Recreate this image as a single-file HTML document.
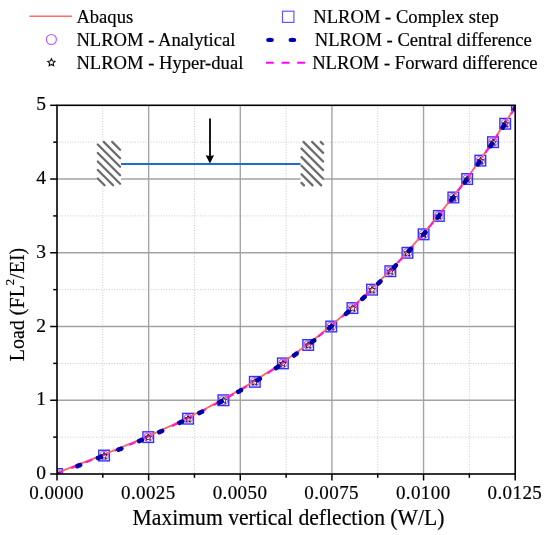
<!DOCTYPE html>
<html><head><meta charset="utf-8"><style>
html,body{margin:0;padding:0;background:#fff;}
svg{display:block;}
text{font-family:"Liberation Serif","Times New Roman",serif;fill:#000;stroke:#000;stroke-width:0.18;}
.gm{stroke:#c8c8c8;stroke-width:1;stroke-dasharray:1 1.6;}
.gM{stroke:#a2a2a2;stroke-width:1.35;}
.sq{fill:#fff;stroke:#3030ff;stroke-width:1.4;}
.ci{fill:none;stroke:#c050ff;stroke-width:1.1;}
.st{fill:none;stroke:#222;stroke-width:1;stroke-linejoin:miter;}
</style></head><body>
<svg width="550" height="535" viewBox="0 0 550 535">
<rect width="550" height="535" fill="#fff"/>
<defs>
<clipPath id="pc"><rect x="57.0" y="105.3" width="458.20" height="368.70"/></clipPath>
<clipPath id="hl"><rect x="96.9" y="141.0" width="24.10" height="45.20"/></clipPath>
<clipPath id="hr"><rect x="300.6" y="141.0" width="23.40" height="45.30"/></clipPath>
</defs>
<g>
<line x1="102.82" y1="105.3" x2="102.82" y2="474.0" class="gm"/>
<line x1="194.46" y1="105.3" x2="194.46" y2="474.0" class="gm"/>
<line x1="286.10" y1="105.3" x2="286.10" y2="474.0" class="gm"/>
<line x1="377.74" y1="105.3" x2="377.74" y2="474.0" class="gm"/>
<line x1="469.38" y1="105.3" x2="469.38" y2="474.0" class="gm"/>
<line x1="57.0" y1="437.13" x2="515.2" y2="437.13" class="gm"/>
<line x1="57.0" y1="363.39" x2="515.2" y2="363.39" class="gm"/>
<line x1="57.0" y1="289.65" x2="515.2" y2="289.65" class="gm"/>
<line x1="57.0" y1="215.91" x2="515.2" y2="215.91" class="gm"/>
<line x1="57.0" y1="142.17" x2="515.2" y2="142.17" class="gm"/>
<line x1="148.64" y1="105.3" x2="148.64" y2="474.0" class="gM"/>
<line x1="240.28" y1="105.3" x2="240.28" y2="474.0" class="gM"/>
<line x1="331.92" y1="105.3" x2="331.92" y2="474.0" class="gM"/>
<line x1="423.56" y1="105.3" x2="423.56" y2="474.0" class="gM"/>
<line x1="57.0" y1="400.26" x2="515.2" y2="400.26" class="gM"/>
<line x1="57.0" y1="326.52" x2="515.2" y2="326.52" class="gM"/>
<line x1="57.0" y1="252.78" x2="515.2" y2="252.78" class="gM"/>
<line x1="57.0" y1="179.04" x2="515.2" y2="179.04" class="gM"/>
</g>
<rect x="96.9" y="141.0" width="24.10" height="45.20" fill="#fff"/>
<rect x="300.6" y="141.0" width="23.40" height="45.30" fill="#fff"/>
<g stroke="#6c6c6c" stroke-width="2.3" stroke-linecap="round">
<line x1="112.20" y1="141.90" x2="120.10" y2="149.80"/>
<line x1="103.70" y1="141.90" x2="120.10" y2="158.30"/>
<line x1="97.80" y1="144.50" x2="120.10" y2="166.80"/>
<line x1="97.80" y1="153.00" x2="120.10" y2="175.30"/>
<line x1="97.80" y1="161.50" x2="120.10" y2="183.80"/>
<line x1="97.80" y1="170.00" x2="113.10" y2="185.30"/>
<line x1="97.80" y1="178.50" x2="104.60" y2="185.30"/>
</g>
<g stroke="#6c6c6c" stroke-width="2.3" stroke-linecap="round">
<line x1="320.70" y1="141.90" x2="323.10" y2="144.30"/>
<line x1="312.10" y1="141.90" x2="323.10" y2="152.90"/>
<line x1="303.50" y1="141.90" x2="323.10" y2="161.50"/>
<line x1="301.50" y1="148.50" x2="323.10" y2="170.10"/>
<line x1="301.50" y1="157.10" x2="323.10" y2="178.70"/>
<line x1="301.50" y1="165.70" x2="321.20" y2="185.40"/>
<line x1="301.50" y1="174.30" x2="312.60" y2="185.40"/>
<line x1="301.50" y1="182.90" x2="304.00" y2="185.40"/>
</g>
<line x1="121" y1="164" x2="300.6" y2="164" stroke="#1b6fcb" stroke-width="2"/>
<line x1="210" y1="118.5" x2="210" y2="156" stroke="#000" stroke-width="1.8"/>
<path d="M205.7,155.3 L209.9,156 L214.1,155.3 L209.9,163.4 Z" fill="#000"/>
<g clip-path="url(#pc)">
<rect x="51.70" y="468.70" width="10.6" height="10.6" class="sq"/>
<rect x="98.76" y="450.26" width="10.6" height="10.6" class="sq"/>
<rect x="142.94" y="431.83" width="10.6" height="10.6" class="sq"/>
<rect x="182.77" y="413.39" width="10.6" height="10.6" class="sq"/>
<rect x="218.13" y="394.96" width="10.6" height="10.6" class="sq"/>
<rect x="249.51" y="376.52" width="10.6" height="10.6" class="sq"/>
<rect x="277.57" y="358.09" width="10.6" height="10.6" class="sq"/>
<rect x="302.89" y="339.66" width="10.6" height="10.6" class="sq"/>
<rect x="325.95" y="321.22" width="10.6" height="10.6" class="sq"/>
<rect x="347.14" y="302.79" width="10.6" height="10.6" class="sq"/>
<rect x="366.76" y="284.35" width="10.6" height="10.6" class="sq"/>
<rect x="385.03" y="265.92" width="10.6" height="10.6" class="sq"/>
<rect x="402.16" y="247.48" width="10.6" height="10.6" class="sq"/>
<rect x="418.29" y="229.04" width="10.6" height="10.6" class="sq"/>
<rect x="433.56" y="210.61" width="10.6" height="10.6" class="sq"/>
<rect x="448.05" y="192.18" width="10.6" height="10.6" class="sq"/>
<rect x="461.87" y="173.74" width="10.6" height="10.6" class="sq"/>
<rect x="475.07" y="155.31" width="10.6" height="10.6" class="sq"/>
<rect x="487.73" y="136.87" width="10.6" height="10.6" class="sq"/>
<rect x="499.89" y="118.44" width="10.6" height="10.6" class="sq"/>
<rect x="511.60" y="100.00" width="10.6" height="10.6" class="sq"/>
<path d="M57.00,474.00 L58.92,473.26 L60.83,472.52 L62.75,471.77 L64.66,471.03 L66.58,470.29 L68.50,469.54 L70.41,468.80 L72.33,468.06 L74.25,467.31 L76.16,466.56 L78.08,465.82 L79.99,465.07 L81.91,464.32 L83.83,463.57 L85.74,462.82 L87.66,462.07 L89.58,461.31 L91.49,460.56 L93.41,459.80 L95.32,459.04 L97.24,458.28 L99.16,457.52 L101.07,456.76 L102.99,455.99 L104.91,455.23 L106.82,454.46 L108.74,453.68 L110.65,452.91 L112.57,452.13 L114.49,451.35 L116.40,450.57 L118.32,449.79 L120.24,449.00 L122.15,448.21 L124.07,447.42 L125.98,446.62 L127.90,445.82 L129.82,445.02 L131.73,444.21 L133.65,443.41 L135.57,442.59 L137.48,441.78 L139.40,440.96 L141.31,440.14 L143.23,439.31 L145.15,438.48 L147.06,437.65 L148.98,436.81 L150.90,435.97 L152.81,435.12 L154.73,434.27 L156.64,433.41 L158.56,432.55 L160.48,431.69 L162.39,430.82 L164.31,429.95 L166.23,429.07 L168.14,428.19 L170.06,427.30 L171.97,426.41 L173.89,425.51 L175.81,424.60 L177.72,423.70 L179.64,422.78 L181.56,421.86 L183.47,420.94 L185.39,420.01 L187.30,419.07 L189.22,418.13 L191.14,417.18 L193.05,416.23 L194.97,415.27 L196.89,414.31 L198.80,413.33 L200.72,412.36 L202.63,411.37 L204.55,410.38 L206.47,409.38 L208.38,408.38 L210.30,407.37 L212.22,406.35 L214.13,405.33 L216.05,404.30 L217.96,403.26 L219.88,402.21 L221.80,401.16 L223.71,400.10 L225.63,399.03 L227.55,397.96 L229.46,396.88 L231.38,395.79 L233.29,394.69 L235.21,393.59 L237.13,392.48 L239.04,391.36 L240.96,390.23 L242.87,389.09 L244.79,387.95 L246.71,386.79 L248.62,385.63 L250.54,384.46 L252.46,383.28 L254.37,382.10 L256.29,380.90 L258.20,379.70 L260.12,378.49 L262.04,377.26 L263.95,376.03 L265.87,374.79 L267.79,373.55 L269.70,372.29 L271.62,371.02 L273.53,369.74 L275.45,368.46 L277.37,367.16 L279.28,365.86 L281.20,364.54 L283.12,363.22 L285.03,361.88 L286.95,360.54 L288.86,359.19 L290.78,357.82 L292.70,356.45 L294.61,355.06 L296.53,353.67 L298.45,352.26 L300.36,350.85 L302.28,349.42 L304.19,347.99 L306.11,346.54 L308.03,345.08 L309.94,343.61 L311.86,342.13 L313.78,340.64 L315.69,339.14 L317.61,337.62 L319.52,336.10 L321.44,334.56 L323.36,333.02 L325.27,331.46 L327.19,329.89 L329.11,328.31 L331.02,326.71 L332.94,325.11 L334.85,323.49 L336.77,321.86 L338.69,320.22 L340.60,318.57 L342.52,316.90 L344.44,315.23 L346.35,313.54 L348.27,311.84 L350.18,310.12 L352.10,308.39 L354.02,306.66 L355.93,304.90 L357.85,303.14 L359.77,301.36 L361.68,299.57 L363.60,297.77 L365.51,295.95 L367.43,294.12 L369.35,292.28 L371.26,290.42 L373.18,288.55 L375.10,286.67 L377.01,284.77 L378.93,282.86 L380.84,280.94 L382.76,279.00 L384.68,277.05 L386.59,275.09 L388.51,273.11 L390.43,271.12 L392.34,269.11 L394.26,267.09 L396.17,265.06 L398.09,263.01 L400.01,260.94 L401.92,258.87 L403.84,256.77 L405.75,254.67 L407.67,252.54 L409.59,250.41 L411.50,248.26 L413.42,246.09 L415.34,243.91 L417.25,241.72 L419.17,239.51 L421.08,237.28 L423.00,235.04 L424.92,232.78 L426.83,230.51 L428.75,228.23 L430.67,225.92 L432.58,223.61 L434.50,221.27 L436.41,218.92 L438.33,216.56 L440.25,214.18 L442.16,211.78 L444.08,209.37 L446.00,206.94 L447.91,204.50 L449.83,202.04 L451.74,199.56 L453.66,197.07 L455.58,194.56 L457.49,192.04 L459.41,189.50 L461.33,186.94 L463.24,184.36 L465.16,181.77 L467.07,179.17 L468.99,176.54 L470.91,173.90 L472.82,171.24 L474.74,168.57 L476.66,165.87 L478.57,163.16 L480.49,160.44 L482.40,157.69 L484.32,154.93 L486.24,152.16 L488.15,149.36 L490.07,146.55 L491.99,143.72 L493.90,140.87 L495.82,138.00 L497.73,135.12 L499.65,132.22 L501.57,129.30 L503.48,126.36 L505.40,123.41 L507.32,120.44 L509.23,117.44 L511.15,114.44 L513.06,111.41 L514.98,108.36 L516.90,105.30" transform="translate(0,-1.2)" fill="none" stroke="#ff6464" stroke-width="1.8"/>
<path d="M57.00,473.60 L59.05,472.81 L61.10,472.01 L63.15,471.22 M71.17,468.11 L73.35,467.26 L75.52,466.41 L77.70,465.57 M85.71,462.44 L87.88,461.58 L90.05,460.73 L92.22,459.87 M100.21,456.70 L102.38,455.84 L104.55,454.97 L106.71,454.10 M114.68,450.87 L116.84,449.99 L119.00,449.11 L121.16,448.22 M129.10,444.92 L131.25,444.02 L133.40,443.11 L135.55,442.20 M143.46,438.81 L145.60,437.88 L147.74,436.95 L149.87,436.01 M157.73,432.52 L159.86,431.57 L161.99,430.60 L164.11,429.64 M171.92,426.03 L174.03,425.04 L176.14,424.05 L178.25,423.05 M186.00,419.31 L188.09,418.29 L190.19,417.25 L192.28,416.22 M199.95,412.35 L202.03,411.28 L204.10,410.21 L206.18,409.14 M213.78,405.12 L215.83,404.01 L217.89,402.90 L219.93,401.78 M227.45,397.61 L229.49,396.46 L231.51,395.31 L233.54,394.15 M240.97,389.82 L242.98,388.63 L244.98,387.43 L246.98,386.23 M254.31,381.74 L256.29,380.50 L258.27,379.26 L260.24,378.01 M267.47,373.35 L269.42,372.07 L271.37,370.79 L273.31,369.50 M280.43,364.67 L282.35,363.35 L284.27,362.02 L286.18,360.68 M293.19,355.70 L295.08,354.33 L296.96,352.95 L298.84,351.57 M305.73,346.43 L307.59,345.01 L309.44,343.60 L311.29,342.17 M318.06,336.87 L319.88,335.41 L321.70,333.95 L323.52,332.49 M330.17,327.03 L331.96,325.53 L333.74,324.03 L335.52,322.52 M342.05,316.92 L343.80,315.38 L345.55,313.84 L347.30,312.30 M353.70,306.55 L355.42,304.97 L357.14,303.39 L358.85,301.81 M365.12,295.92 L366.81,294.31 L368.49,292.70 L370.17,291.08 M376.32,285.06 L377.97,283.42 L379.62,281.77 L381.27,280.11 M387.29,273.97 L388.91,272.29 L390.53,270.61 L392.14,268.92 M398.04,262.66 L399.62,260.95 L401.21,259.24 L402.79,257.52 M408.56,251.15 L410.12,249.41 L411.67,247.67 L413.22,245.92 M418.88,239.45 L420.40,237.68 L421.92,235.91 L423.43,234.13 M428.97,227.56 L430.47,225.76 L431.96,223.97 L433.44,222.17 M438.87,215.50 L440.33,213.68 L441.79,211.86 L443.24,210.03 M448.56,203.27 L449.99,201.43 L451.42,199.58 L452.84,197.74 M458.06,190.89 L459.46,189.03 L460.86,187.16 L462.25,185.29 M467.36,178.37 L468.74,176.49 L470.11,174.60 L471.48,172.71 M476.48,165.72 L477.83,163.81 L479.18,161.91 L480.52,160.00 M485.42,152.94 L486.75,151.01 L488.07,149.09 L489.38,147.16 M494.19,140.03 L495.49,138.09 L496.78,136.15 L498.07,134.21 M502.79,127.02 L504.07,125.06 L505.34,123.11 L506.60,121.15 M511.23,113.90 L512.48,111.93 L513.73,109.96 L514.97,107.98" fill="none" stroke="#ff10e0" stroke-width="1.9"/>
<circle cx="57.00" cy="474.00" r="4.3" class="ci"/>
<circle cx="104.06" cy="455.56" r="4.3" class="ci"/>
<circle cx="148.24" cy="437.13" r="4.3" class="ci"/>
<circle cx="188.07" cy="418.69" r="4.3" class="ci"/>
<circle cx="223.43" cy="400.26" r="4.3" class="ci"/>
<circle cx="254.81" cy="381.82" r="4.3" class="ci"/>
<circle cx="282.87" cy="363.39" r="4.3" class="ci"/>
<circle cx="308.19" cy="344.96" r="4.3" class="ci"/>
<circle cx="331.25" cy="326.52" r="4.3" class="ci"/>
<circle cx="352.44" cy="308.09" r="4.3" class="ci"/>
<circle cx="372.06" cy="289.65" r="4.3" class="ci"/>
<circle cx="390.33" cy="271.22" r="4.3" class="ci"/>
<circle cx="407.46" cy="252.78" r="4.3" class="ci"/>
<circle cx="423.59" cy="234.34" r="4.3" class="ci"/>
<circle cx="438.86" cy="215.91" r="4.3" class="ci"/>
<circle cx="453.35" cy="197.48" r="4.3" class="ci"/>
<circle cx="467.17" cy="179.04" r="4.3" class="ci"/>
<circle cx="480.37" cy="160.61" r="4.3" class="ci"/>
<circle cx="493.03" cy="142.17" r="4.3" class="ci"/>
<circle cx="505.19" cy="123.74" r="4.3" class="ci"/>
<circle cx="516.90" cy="105.30" r="4.3" class="ci"/>
<path d="M57.00,470.70 L58.06,472.84 L60.42,473.19 L58.71,474.86 L59.12,477.21 L57.00,476.10 L54.88,477.21 L55.29,474.86 L53.58,473.19 L55.94,472.84 Z" class="st"/>
<path d="M104.06,452.26 L105.12,454.41 L107.48,454.75 L105.77,456.42 L106.18,458.78 L104.06,457.67 L101.94,458.78 L102.35,456.42 L100.64,454.75 L103.00,454.41 Z" class="st"/>
<path d="M148.24,433.83 L149.30,435.97 L151.67,436.32 L149.95,437.99 L150.36,440.34 L148.24,439.23 L146.13,440.34 L146.53,437.99 L144.82,436.32 L147.19,435.97 Z" class="st"/>
<path d="M188.07,415.39 L189.13,417.54 L191.50,417.88 L189.79,419.55 L190.19,421.91 L188.07,420.80 L185.96,421.91 L186.36,419.55 L184.65,417.88 L187.02,417.54 Z" class="st"/>
<path d="M223.43,396.96 L224.49,399.10 L226.85,399.45 L225.14,401.12 L225.54,403.47 L223.43,402.36 L221.31,403.47 L221.72,401.12 L220.00,399.45 L222.37,399.10 Z" class="st"/>
<path d="M254.81,378.52 L255.87,380.67 L258.23,381.01 L256.52,382.68 L256.93,385.04 L254.81,383.93 L252.69,385.04 L253.10,382.68 L251.39,381.01 L253.75,380.67 Z" class="st"/>
<path d="M282.87,360.09 L283.93,362.23 L286.29,362.58 L284.58,364.25 L284.99,366.60 L282.87,365.49 L280.75,366.60 L281.16,364.25 L279.45,362.58 L281.81,362.23 Z" class="st"/>
<path d="M308.19,341.66 L309.25,343.80 L311.61,344.14 L309.90,345.81 L310.31,348.17 L308.19,347.06 L306.07,348.17 L306.48,345.81 L304.77,344.14 L307.13,343.80 Z" class="st"/>
<path d="M331.25,323.22 L332.31,325.36 L334.68,325.71 L332.97,327.38 L333.37,329.73 L331.25,328.62 L329.14,329.73 L329.54,327.38 L327.83,325.71 L330.20,325.36 Z" class="st"/>
<path d="M352.44,304.79 L353.50,306.93 L355.87,307.27 L354.15,308.94 L354.56,311.30 L352.44,310.19 L350.33,311.30 L350.73,308.94 L349.02,307.27 L351.38,306.93 Z" class="st"/>
<path d="M372.06,286.35 L373.11,288.49 L375.48,288.84 L373.77,290.51 L374.17,292.86 L372.06,291.75 L369.94,292.86 L370.34,290.51 L368.63,288.84 L371.00,288.49 Z" class="st"/>
<path d="M390.33,267.92 L391.39,270.06 L393.76,270.40 L392.04,272.07 L392.45,274.43 L390.33,273.32 L388.22,274.43 L388.62,272.07 L386.91,270.40 L389.27,270.06 Z" class="st"/>
<path d="M407.46,249.48 L408.52,251.62 L410.88,251.97 L409.17,253.64 L409.58,255.99 L407.46,254.88 L405.34,255.99 L405.75,253.64 L404.04,251.97 L406.40,251.62 Z" class="st"/>
<path d="M423.59,231.05 L424.65,233.19 L427.02,233.53 L425.30,235.20 L425.71,237.56 L423.59,236.45 L421.48,237.56 L421.88,235.20 L420.17,233.53 L422.53,233.19 Z" class="st"/>
<path d="M438.86,212.61 L439.91,214.75 L442.28,215.10 L440.57,216.77 L440.97,219.12 L438.86,218.01 L436.74,219.12 L437.14,216.77 L435.43,215.10 L437.80,214.75 Z" class="st"/>
<path d="M453.35,194.18 L454.41,196.32 L456.78,196.66 L455.06,198.33 L455.47,200.69 L453.35,199.58 L451.24,200.69 L451.64,198.33 L449.93,196.66 L452.29,196.32 Z" class="st"/>
<path d="M467.17,175.74 L468.22,177.88 L470.59,178.23 L468.88,179.90 L469.28,182.25 L467.17,181.14 L465.05,182.25 L465.45,179.90 L463.74,178.23 L466.11,177.88 Z" class="st"/>
<path d="M480.37,157.31 L481.43,159.45 L483.79,159.79 L482.08,161.46 L482.49,163.82 L480.37,162.71 L478.26,163.82 L478.66,161.46 L476.95,159.79 L479.31,159.45 Z" class="st"/>
<path d="M493.03,138.87 L494.09,141.01 L496.45,141.36 L494.74,143.03 L495.14,145.38 L493.03,144.27 L490.91,145.38 L491.32,143.03 L489.60,141.36 L491.97,141.01 Z" class="st"/>
<path d="M505.19,120.44 L506.25,122.58 L508.61,122.92 L506.90,124.59 L507.30,126.95 L505.19,125.84 L503.07,126.95 L503.48,124.59 L501.76,122.92 L504.13,122.58 Z" class="st"/>
<path d="M516.90,102.00 L517.95,104.14 L520.32,104.49 L518.61,106.16 L519.01,108.51 L516.90,107.40 L514.78,108.51 L515.18,106.16 L513.47,104.49 L515.84,104.14 Z" class="st"/>
<path d="M77.31,466.12 L77.87,465.90 L78.43,465.68 L78.99,465.46 L79.55,465.24 L80.11,465.03 M97.96,458.00 L98.52,457.78 L99.08,457.55 L99.64,457.33 L100.19,457.11 L100.75,456.89 M118.54,449.70 L119.10,449.47 L119.65,449.24 L120.21,449.01 L120.76,448.78 L121.32,448.55 M139.01,441.13 L139.56,440.89 L140.11,440.65 L140.67,440.42 L141.22,440.18 L141.77,439.94 M159.33,432.21 L159.88,431.96 L160.42,431.71 L160.97,431.47 L161.52,431.22 L162.06,430.97 M179.46,422.87 L180.00,422.61 L180.54,422.35 L181.08,422.09 L181.62,421.83 L182.16,421.57 M199.36,413.05 L199.89,412.78 L200.43,412.50 L200.96,412.23 L201.49,411.96 L202.03,411.68 M218.99,402.70 L219.51,402.41 L220.04,402.13 L220.57,401.84 L221.09,401.55 L221.62,401.26 M238.31,391.79 L238.82,391.48 L239.34,391.18 L239.86,390.88 L240.37,390.57 L240.89,390.27 M257.28,380.28 L257.79,379.96 L258.29,379.64 L258.80,379.32 L259.31,379.00 L259.82,378.68 M275.87,368.17 L276.37,367.84 L276.87,367.50 L277.36,367.17 L277.86,366.83 L278.36,366.49 M294.06,355.46 L294.55,355.11 L295.03,354.76 L295.52,354.41 L296.00,354.05 L296.49,353.70 M311.82,342.16 L312.29,341.79 L312.77,341.43 L313.24,341.06 L313.71,340.69 L314.19,340.32 M329.13,328.28 L329.60,327.90 L330.06,327.52 L330.52,327.13 L330.98,326.75 L331.44,326.36 M345.99,313.86 L346.44,313.46 L346.89,313.06 L347.34,312.66 L347.79,312.26 L348.24,311.86 M362.39,298.91 L362.83,298.49 L363.26,298.08 L363.70,297.67 L364.13,297.26 L364.57,296.85 M378.33,283.47 L378.75,283.04 L379.17,282.62 L379.60,282.19 L380.02,281.77 L380.44,281.34 M393.81,267.57 L394.22,267.13 L394.63,266.70 L395.04,266.26 L395.45,265.82 L395.86,265.39 M408.84,251.25 L409.24,250.80 L409.64,250.35 L410.04,249.91 L410.44,249.46 L410.84,249.01 M423.43,234.53 L423.82,234.08 L424.21,233.62 L424.60,233.16 L424.99,232.70 L425.37,232.25 M437.60,217.46 L437.98,216.99 L438.36,216.53 L438.74,216.06 L439.11,215.59 L439.49,215.12 M451.37,200.05 L451.73,199.58 L452.10,199.10 L452.47,198.63 L452.83,198.15 L453.20,197.68 M464.74,182.34 L465.09,181.86 L465.45,181.38 L465.81,180.89 L466.16,180.41 L466.52,179.93 M477.73,164.36 L478.08,163.87 L478.42,163.38 L478.77,162.89 L479.11,162.39 L479.46,161.90 M490.36,146.11 L490.70,145.62 L491.04,145.12 L491.37,144.62 L491.71,144.13 L492.04,143.63 M502.65,127.64 L502.98,127.13 L503.31,126.63 L503.63,126.13 L503.96,125.63 L504.29,125.12 M514.61,108.95 L514.93,108.44 L515.25,107.93 L515.57,107.42 L515.89,106.91 L516.21,106.41" fill="none" stroke="#0000a8" stroke-width="4.6" stroke-linecap="round"/>
</g>
<g stroke="#000" stroke-width="1.6" fill="none">
<rect x="57.0" y="105.3" width="458.20" height="368.70"/>
</g>
<g stroke="#000" stroke-width="1.5">
<line x1="57.00" y1="474.0" x2="57.00" y2="480.5"/>
<line x1="148.64" y1="474.0" x2="148.64" y2="480.5"/>
<line x1="240.28" y1="474.0" x2="240.28" y2="480.5"/>
<line x1="331.92" y1="474.0" x2="331.92" y2="480.5"/>
<line x1="423.56" y1="474.0" x2="423.56" y2="480.5"/>
<line x1="515.20" y1="474.0" x2="515.20" y2="480.5"/>
<line x1="102.82" y1="474.0" x2="102.82" y2="477.8"/>
<line x1="194.46" y1="474.0" x2="194.46" y2="477.8"/>
<line x1="286.10" y1="474.0" x2="286.10" y2="477.8"/>
<line x1="377.74" y1="474.0" x2="377.74" y2="477.8"/>
<line x1="469.38" y1="474.0" x2="469.38" y2="477.8"/>
<line x1="50.2" y1="474.00" x2="57.0" y2="474.00"/>
<line x1="50.2" y1="400.26" x2="57.0" y2="400.26"/>
<line x1="50.2" y1="326.52" x2="57.0" y2="326.52"/>
<line x1="50.2" y1="252.78" x2="57.0" y2="252.78"/>
<line x1="50.2" y1="179.04" x2="57.0" y2="179.04"/>
<line x1="50.2" y1="105.30" x2="57.0" y2="105.30"/>
<line x1="53.2" y1="437.13" x2="57.0" y2="437.13"/>
<line x1="53.2" y1="363.39" x2="57.0" y2="363.39"/>
<line x1="53.2" y1="289.65" x2="57.0" y2="289.65"/>
<line x1="53.2" y1="215.91" x2="57.0" y2="215.91"/>
<line x1="53.2" y1="142.17" x2="57.0" y2="142.17"/>
</g>
<g font-size="18.5">
<text x="56.70" y="499.3" text-anchor="middle" letter-spacing="0.4" font-size="19">0.0000</text>
<text x="148.34" y="499.3" text-anchor="middle" letter-spacing="0.4" font-size="19">0.0025</text>
<text x="239.98" y="499.3" text-anchor="middle" letter-spacing="0.4" font-size="19">0.0050</text>
<text x="331.62" y="499.3" text-anchor="middle" letter-spacing="0.4" font-size="19">0.0075</text>
<text x="423.26" y="499.3" text-anchor="middle" letter-spacing="0.4" font-size="19">0.0100</text>
<text x="514.90" y="499.3" text-anchor="middle" letter-spacing="0.4" font-size="19">0.0125</text>
<text x="45.9" y="479.10" text-anchor="end" font-size="19.5">0</text>
<text x="45.9" y="405.36" text-anchor="end" font-size="19.5">1</text>
<text x="45.9" y="331.62" text-anchor="end" font-size="19.5">2</text>
<text x="45.9" y="257.88" text-anchor="end" font-size="19.5">3</text>
<text x="45.9" y="184.14" text-anchor="end" font-size="19.5">4</text>
<text x="45.9" y="110.40" text-anchor="end" font-size="19.5">5</text>
</g>
<text transform="translate(288.5,525.2) scale(1,1.03)" font-size="21.65" text-anchor="middle">Maximum vertical deflection (W/L)</text>
<text transform="translate(23.6,304.5) rotate(-90)" font-size="20" text-anchor="middle">Load (FL<tspan dy="-10" font-size="12.5">2</tspan><tspan dy="10">/EI)</tspan></text>
<line x1="29.5" y1="16.3" x2="72" y2="16.3" stroke="#ff6a6a" stroke-width="1.4"/>
<text x="76.4" y="23" font-size="18.6">Abaqus</text>
<circle cx="51.4" cy="39.5" r="5" fill="none" stroke="#c050ff" stroke-width="1.1"/>
<text x="76.4" y="45.8" font-size="18.6">NLROM - Analytical</text>
<path d="M51.40,58.80 L52.52,61.06 L55.01,61.43 L53.21,63.19 L53.63,65.67 L51.40,64.50 L49.17,65.67 L49.59,63.19 L47.79,61.43 L50.28,61.06 Z" fill="none" stroke="#111" stroke-width="1.15"/>
<text x="76.4" y="68.5" font-size="18.6">NLROM - Hyper-dual</text>
<rect x="282.5" y="11.2" width="11.4" height="11.2" fill="none" stroke="#5a5aff" stroke-width="1.2"/>
<text x="313.3" y="23" font-size="18.6">NLROM - Complex step</text>
<ellipse cx="270" cy="39.9" rx="3.8" ry="2.2" fill="#0000a8"/>
<ellipse cx="292.4" cy="39.9" rx="3.8" ry="2.2" fill="#0000a8"/>
<text x="314.8" y="45.6" font-size="18.6">NLROM - Central difference</text>
<line x1="266" y1="62.8" x2="305.5" y2="62.8" stroke="#ff00ff" stroke-width="2" stroke-dasharray="7.7 7.9"/>
<text x="312.2" y="68.6" font-size="18.6">NLROM - Forward difference</text>
</svg>
</body></html>
